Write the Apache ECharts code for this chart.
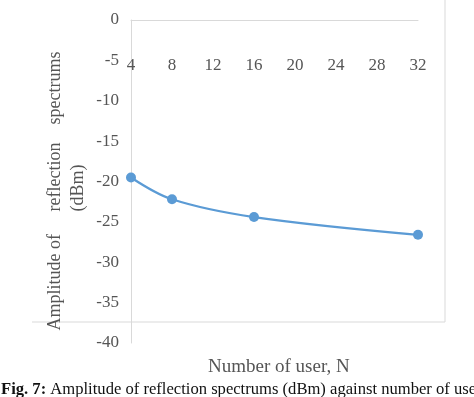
<!DOCTYPE html>
<html>
<head>
<meta charset="utf-8">
<script src="https://cdn.jsdelivr.net/npm/echarts@6/dist/echarts.min.js"></script>
<style>
  html, body { margin: 0; padding: 0; background: #fff; }
  #chart { width: 474px; height: 397px; }
</style>
</head>
<body>
<div id="chart"></div>
<script>
// users N and reflection amplitude (dBm)
var users = [4, 8, 16, 32];
var amplitude = [-19.5, -22.2, -24.4, -26.6];
var xTicks = [4, 8, 12, 16, 20, 24, 28, 32];
var yTicks = [0, -5, -10, -15, -20, -25, -30, -35, -40];

var chart = echarts.init(document.getElementById('chart'));

var font = '"Liberation Serif", "DejaVu Serif", serif';
var gray = '#555';

var option = {
    animation: false,
    textStyle: { fontFamily: font },
    title: [{
        text: 'Number of user, N',
        left: 203,
        top: 353,
        textStyle: { fontFamily: font, fontSize: 19, fontWeight: 'normal', color: gray }
    }, {
        text: '{b|Fig. 7:} Amplitude of reflection spectrums (dBm) against number of use',
        left: -4,
        top: 376,
        textStyle: {
            fontFamily: font, fontSize: 16.6, fontWeight: 'normal', color: '#111',
            rich: {
                b: { fontFamily: font, fontSize: 16.6, fontWeight: 'bold', color: '#111' }
            }
        }
    }],
    grid: {
        left: 131,
        right: 56,
        top: 20,
        bottom: 54
    },
    xAxis: {
        type: 'value',
        position: 'top',
        min: xTicks[0],
        max: xTicks[xTicks.length - 1],
        interval: 4,
        axisLine: { show: true, lineStyle: { color: '#d9d9d9', width: 1 } },
        axisTick: { show: false },
        splitLine: { show: false },
        axisLabel: {
            inside: true,
            margin: 37,
            color: gray,
            fontFamily: font,
            fontSize: 17
        }
    },
    yAxis: {
        type: 'value',
        min: yTicks[yTicks.length - 1],
        max: yTicks[0],
        interval: 5,
        axisLine: { show: true, lineStyle: { color: '#d9d9d9', width: 1 } },
        axisTick: { show: false },
        splitLine: { show: false },
        axisLabel: {
            margin: 12,
            color: gray,
            fontFamily: font,
            fontSize: 17
        }
    },
    graphic: [{
        type: 'polyline',
        silent: true,
        shape: { points: [[32, 322], [445, 322], [445, 0]] },
        style: { stroke: '#d9d9d9', lineWidth: 1, fill: null }
    }, {
        type: 'text',
        x: 55,
        y: 191,
        rotation: Math.PI / 2,
        style: {
            text: 'Amplitude of     reflection    spectrums',
            font: '18px ' + font,
            fill: gray,
            align: 'center',
            verticalAlign: 'middle'
        }
    }, {
        type: 'text',
        x: 78,
        y: 188,
        rotation: Math.PI / 2,
        style: {
            text: '(dBm)',
            font: '18px ' + font,
            fill: gray,
            align: 'center',
            verticalAlign: 'middle'
        }
    }],
    series: [{
        type: 'line',
        data: users.map(function (n, i) { return [n, amplitude[i]]; }),
        smooth: 0.35,
        symbol: 'circle',
        symbolSize: 10,
        itemStyle: { color: '#5b9bd5' },
        lineStyle: { color: '#5b9bd5', width: 2.25 }
    }]
};

chart.setOption(option);
</script>
</body>
</html>
